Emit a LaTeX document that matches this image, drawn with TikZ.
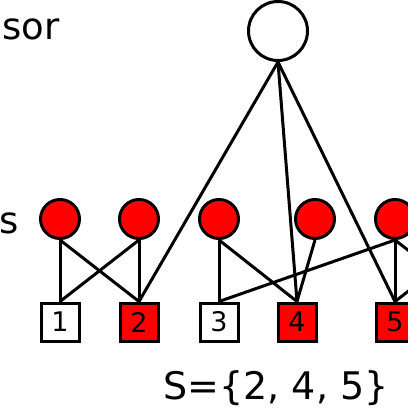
\documentclass[tikz,border=0pt]{standalone}
\usepackage{fontspec}
\setmainfont{DejaVu Sans}
\begin{document}
\begin{tikzpicture}[x=1pt,y=-1pt,
  lw/.style={line width=3pt},
  redc/.style={circle,draw,lw,fill=red,minimum size=39pt,inner sep=0pt},
  topc/.style={circle,draw,lw,fill=white,minimum size=59pt,inner sep=0pt},
  sq/.style={rectangle,draw,lw,minimum size=38pt,inner sep=0pt,font=\fontsize{27}{30}\selectfont},
  sel/.style={sq,fill=red},
  unsel/.style={sq,fill=white},
  edge/.style={lw},
  lbl/.style={inner sep=0pt,font=\fontsize{37}{40}\selectfont}]
\useasboundingbox (0,0) rectangle (408,408);
\clip (0,0) rectangle (408,408);
\node[topc] (top) at (278,31) {};
\foreach \i/\x in {1/60,2/139,3/219,4/315,5/395}
  \node[redc] (c\i) at (\x,219) {};
\node[unsel] (s1) at (60,322) {1};
\node[sel] (s2) at (139,322) {2};
\node[unsel] (s3) at (219,322) {3};
\node[sel] (s4) at (297,322) {4};
\node[sel] (s5) at (395,322) {5};
\coordinate (c6) at (474,240);
\coordinate (s6) at (474,301.5);
\draw[edge] (c1.south) -- (s1.north);
\draw[edge] (c1.south) -- (s2.north);
\draw[edge] (c2.south) -- (s1.north);
\draw[edge] (c2.south) -- (s2.north);
\draw[edge] (c3.south) -- (s3.north);
\draw[edge] (c3.south) -- (s4.north);
\draw[edge] (c4.south) -- (s4.north);
\draw[edge] (c5.south) -- (s3.north);
\draw[edge] (c5.south) -- (s5.north);
\draw[edge] (c5.south) -- (s6);
\draw[edge] (c6) -- (s5.north);
\draw[edge] (top.south) -- (s2.north);
\draw[edge] (top.south) -- (s4.north);
\draw[edge] (top.south) -- (s5.north);
\node[lbl,anchor=base west] (lsor) at (2,39) {sor};
\node[lbl,anchor=base west] (ls) at (-1,233) {s};
\node[lbl,anchor=base,font=\fontsize{38}{41}\selectfont] (lS) at (276,399) {S=\{2, 4, 5\}};
\end{tikzpicture}
\end{document}
